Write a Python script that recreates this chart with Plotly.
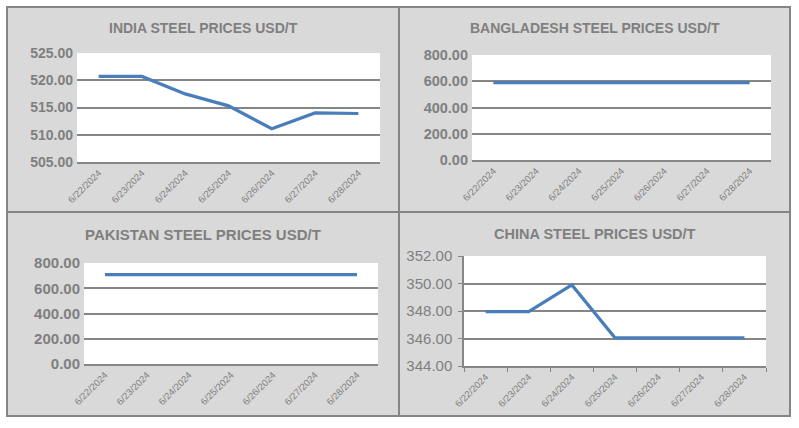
import plotly.graph_objects as go

W, H = 799, 428

dates = ["6/22/2024", "6/23/2024", "6/24/2024", "6/25/2024",
         "6/26/2024", "6/27/2024", "6/28/2024"]

india = [520.7, 520.7, 517.5, 515.3, 511.1, 514.0, 513.9]
bangladesh = [590, 590, 590, 590, 590, 590, 590]
pakistan = [708, 708, 708, 708, 708, 708, 708]
china = [347.95, 347.95, 349.9, 346.05, 346.05, 346.05, 346.05]

BLUE = "#4a7ebb"
GREY = "#7f7f7f"
GRID = "#868686"
PANEL = "#d9d9d9"
FONT = "Liberation Sans, Arial, sans-serif"


def px(x):
    return x / W


def py(y):
    return 1 - y / H


# title, values, plot box px (x0, x1, y0, y1), panel box px, y range, dtick,
# title size, tick size, bold ticks, axis ticks
charts = [
    ("INDIA STEEL PRICES USD/T", india, (77, 380, 53, 162), (7, 399, 7, 212), (505, 525), 5, 14, 14, True, False),
    ("BANGLADESH STEEL PRICES USD/T", bangladesh, (472, 771, 55, 160), (399, 790, 7, 212), (0, 800), 200, 14, 14.5, True, False),
    ("PAKISTAN STEEL PRICES USD/T", pakistan, (84, 378, 263, 364), (7, 399, 212, 416), (0, 800), 200, 15, 15, True, False),
    ("CHINA STEEL PRICES USD/T", china, (464, 766, 256, 366), (399, 790, 212, 416), (344, 352), 2, 14.5, 15, False, True),
]

fig = go.Figure()
panels = []
plots = []
annotations = []
layout = {}

for i, (title, vals, box, panel, yr, dt, tsize, ksize, bold, ticks) in enumerate(charts):
    n = "" if i == 0 else str(i + 1)
    fig.add_trace(go.Scatter(
        x=dates, y=vals, mode="lines",
        line=dict(color=BLUE, width=3.2),
        xaxis="x" + n, yaxis="y" + n, showlegend=False,
    ))
    x0, x1, y0, y1 = box
    tick_font = dict(family=FONT, size=ksize, color=GREY)
    if bold:
        tick_font["weight"] = "bold"
    layout["xaxis" + n] = dict(
        domain=[px(x0), px(x1)], anchor="y" + n, type="category",
        range=[-0.5, 6.5], tickangle=-45, showgrid=False, automargin=False,
        showline=True, linecolor=GRID, linewidth=1.5,
        ticks="outside" if ticks else "", tickson="boundaries", ticklen=4, tickcolor=GRID,
        tickfont=dict(family=FONT, size=9.5, color=GREY),
        fixedrange=True,
    )
    layout["yaxis" + n] = dict(
        domain=[py(y1), py(y0)], anchor="x" + n, range=list(yr), dtick=dt,
        tickformat=".2f", showgrid=True, gridcolor=GRID, gridwidth=1.5,
        zeroline=False, showline=ticks, linecolor=GRID, linewidth=1.5,
        ticks="outside" if ticks else "", ticklen=4, tickcolor=GRID, automargin=False,
        tickfont=tick_font, ticklabelstandoff=3, fixedrange=True,
    )
    p0, p1, q0, q1 = panel
    panels.append(dict(
        type="rect", xref="paper", yref="paper", layer="below",
        x0=px(p0), x1=px(p1), y0=py(q1), y1=py(q0),
        fillcolor=PANEL, line=dict(color="#858585", width=2),
    ))
    plots.append(dict(
        type="rect", xref="paper", yref="paper", layer="below",
        x0=px(x0), x1=px(x1), y0=py(y1), y1=py(y0),
        fillcolor="white", line=dict(width=0),
    ))
    annotations.append(dict(
        text=title, xref="paper", yref="paper", showarrow=False,
        x=px((p0 + p1) / 2), y=py(q0 + (21 if q0 < 100 else 22)),
        xanchor="center", yanchor="middle",
        font=dict(family=FONT, size=tsize, color=GREY, weight="bold"),
    ))

fig.update_layout(
    width=W, height=H, margin=dict(l=0, r=0, t=0, b=0, autoexpand=False),
    paper_bgcolor="white", plot_bgcolor="white",
    shapes=panels + plots, annotations=annotations, **layout,
)

# page body has a default 8px margin; drop it so the figure sits at 0,0
fig.write_html("out.html", config={"displayModeBar": False},
               post_script="document.body.style.margin = '0';")
